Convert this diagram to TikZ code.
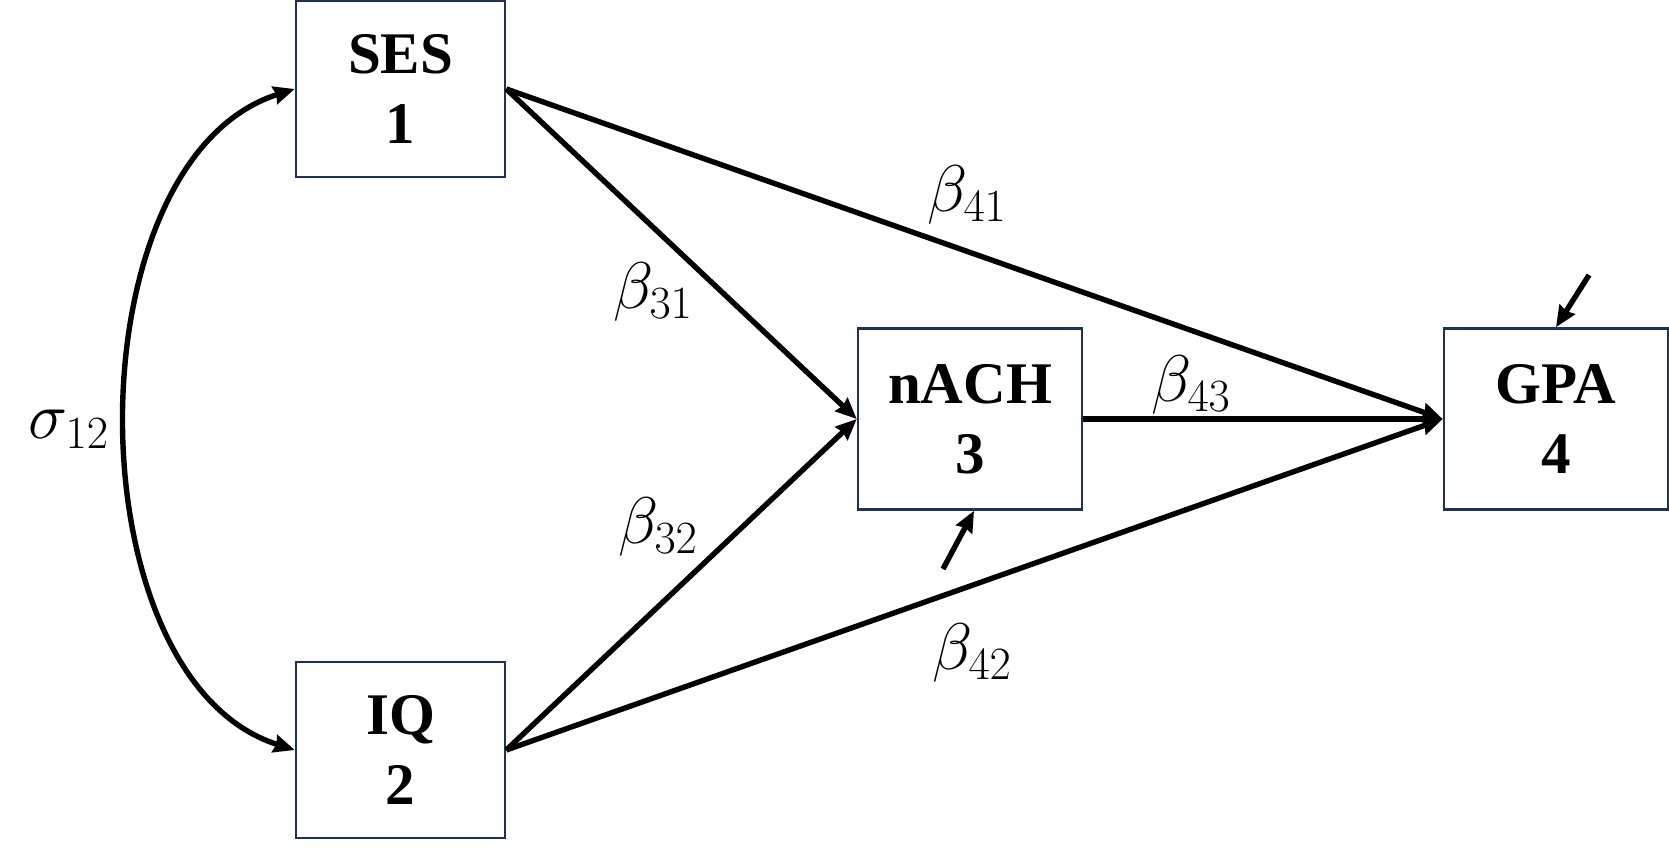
\RequirePackage{fix-cm}
\documentclass[tikz,border=0pt]{standalone}
\usepackage[no-math]{fontspec}
\setmainfont{Liberation Serif}
\usetikzlibrary{arrows.meta}
\definecolor{boxcolor}{RGB}{31,50,80} % border colour of the variables

\tikzset{
  varbox/.style={draw=boxcolor, line width=1.3pt, align=center,
    font=\fontsize{29.5}{35}\selectfont\bfseries, inner sep=0pt},
  effect/.style={line width=2.7pt, -{Stealth[length=10.5pt,width=9pt,inset=1pt]}},
  coef/.style={font=\fontsize{33}{38}\selectfont, inner sep=0pt}
}

\begin{document}
\begin{tikzpicture}[x=0.5pt,y=0.5pt]
\useasboundingbox (0,0) rectangle (1669,855);

% observed variables
\node[varbox, minimum width=104.5pt, minimum height=88pt] (SES) at (400.5,766) {SES\\1};
\node[varbox, minimum width=104.5pt, minimum height=88pt] (IQ) at (400.5,105) {IQ\\2};
\node[varbox, minimum width=112pt, minimum height=90.5pt] (nACH) at (970,436) {nACH\\3};
\node[varbox, minimum width=112pt, minimum height=90.5pt] (GPA) at (1556,436) {GPA\\4};

% disturbances
\coordinate (e3) at (943,286);
\coordinate (e4) at (1589,580);

% covariance of the exogenous variables
\draw[effect, {Stealth[length=10.5pt,width=9pt,inset=1pt]}-{Stealth[length=10.5pt,width=9pt,inset=1pt]}]
  (SES.west) .. controls +(-224,-71) and +(-224,71) .. (IQ.west);

% paths
\draw[effect] (SES.east) -- (nACH.west);
\draw[effect] (SES.east) -- (GPA.west);
\draw[effect] (IQ.east) -- (nACH.west);
\draw[effect] (IQ.east) -- (GPA.west);
\draw[effect] (nACH.east) -- (GPA.west);
\draw[effect] (e3) -- ([xshift=2pt]nACH.south);
\draw[effect] (e4) -- (GPA.north);

% coefficients
\node[coef] (s12) at (69,426) {$\sigma_{12}$};
\node[coef] (b41) at (967,660) {$\beta_{41}$};
\node[coef] (b31) at (653,563) {$\beta_{31}$};
\node[coef] (b32) at (658,328) {$\beta_{32}$};
\node[coef] (b43) at (1191,470) {$\beta_{43}$};
\node[coef] (b42) at (972,202) {$\beta_{42}$};
\end{tikzpicture}
\end{document}
